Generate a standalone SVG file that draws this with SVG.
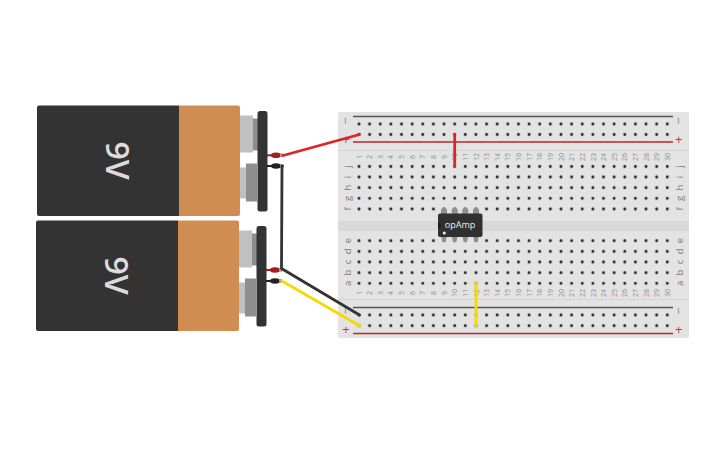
<svg xmlns="http://www.w3.org/2000/svg" width="725" height="453" viewBox="0 0 725 453">
<style>
text{font-family:"Open Sans","Noto Sans","DejaVu Sans",sans-serif}
.halo{stroke:#cbcbcb;stroke-width:4.600;stroke-linecap:round;stroke-dasharray:0 10.631;fill:none}
.hole{stroke:#333;stroke-width:2.800;stroke-linecap:round;stroke-dasharray:0 10.631;fill:none}
.lab{font-size:7px;fill:#8e8e8e;text-anchor:middle}
.let{font-size:9.500px;fill:#7a7a7a;text-anchor:middle}
.sign{font-size:13px;text-anchor:middle}
.plus{fill:#d0342c}
.minus{fill:#8a8a8a}
.wire{fill:none;stroke-width:2.800;stroke-linecap:round;stroke-linejoin:round}
.dark{fill:#333}.orange{fill:#d08d52}.t1{fill:#c0c0c0}.t2{fill:#8e8e8e}
.pin{fill:#8f8f8f}
</style>
<defs>
<g id="row"><path class="halo" d="M359 0H668"/><path class="hole" d="M359 0H668"/></g>
<g id="battery">
<rect class="t1" x="202" y="10" width="14" height="37"/>
<rect class="t2" x="216" y="13" width="5" height="32"/>
<rect class="t1" x="202" y="62" width="7" height="31"/>
<rect class="t2" x="209" y="58" width="11" height="38"/>
<path class="dark" d="M2 0H142V110.500H2Q0 110.500 0 108.500V2Q0 0 2 0Z"/>
<path class="orange" d="M142 0H201Q203 0 203 2V108.500Q203 110.500 201 110.500H142Z"/>
<rect class="dark" x="220.500" y="5.500" width="10" height="100.500" rx="2.500"/>
<text transform="translate(81 55) rotate(90)" font-size="32" font-weight="600" fill="#dcdcdc" text-anchor="middle" dominant-baseline="central">9V</text>
</g>
</defs>

<g id="battery-1"><use href="#battery" x="37" y="105.500"/></g>
<g id="battery-2"><use href="#battery" x="36" y="220.500"/></g>

<g id="breadboard">
<rect x="338" y="112" width="351" height="226" rx="2" fill="#e3e3e3"/>
<rect x="338" y="221" width="351" height="10" fill="#d8d8d8"/>
<path d="M338 150.500H689M338 299.500H689" stroke="#d4d4d4" stroke-width="1"/>
<path d="M353 116.500H673M353 307.500H673" stroke="#555" stroke-width="1.300"/>
<path d="M353 142H673M353 333.500H673" stroke="#b82a2a" stroke-width="1.300"/>
<g id="holes">
<use href="#row" y="124"/><use href="#row" y="134.500"/>
<use href="#row" y="166.500"/><use href="#row" y="177"/><use href="#row" y="187.700"/><use href="#row" y="198.300"/><use href="#row" y="209"/>
<use href="#row" y="240.700"/><use href="#row" y="251.400"/><use href="#row" y="262"/><use href="#row" y="272.700"/><use href="#row" y="283.300"/>
<use href="#row" y="315"/><use href="#row" y="325.700"/>
</g>
<g id="numbers-top">
<text class="lab" transform="translate(361.500 157) rotate(-90)">1</text><text class="lab" transform="translate(372.100 157) rotate(-90)">2</text><text class="lab" transform="translate(382.700 157) rotate(-90)">3</text><text class="lab" transform="translate(393.400 157) rotate(-90)">4</text><text class="lab" transform="translate(404 157) rotate(-90)">5</text><text class="lab" transform="translate(414.700 157) rotate(-90)">6</text><text class="lab" transform="translate(425.300 157) rotate(-90)">7</text><text class="lab" transform="translate(435.900 157) rotate(-90)">8</text><text class="lab" transform="translate(446.600 157) rotate(-90)">9</text><text class="lab" transform="translate(457.200 157) rotate(-90)">10</text><text class="lab" transform="translate(467.800 157) rotate(-90)">11</text><text class="lab" transform="translate(478.500 157) rotate(-90)">12</text><text class="lab" transform="translate(489.100 157) rotate(-90)">13</text><text class="lab" transform="translate(499.700 157) rotate(-90)">14</text><text class="lab" transform="translate(510.400 157) rotate(-90)">15</text><text class="lab" transform="translate(521 157) rotate(-90)">16</text><text class="lab" transform="translate(531.600 157) rotate(-90)">17</text><text class="lab" transform="translate(542.300 157) rotate(-90)">18</text><text class="lab" transform="translate(552.900 157) rotate(-90)">19</text><text class="lab" transform="translate(563.600 157) rotate(-90)">20</text><text class="lab" transform="translate(574.200 157) rotate(-90)">21</text><text class="lab" transform="translate(584.800 157) rotate(-90)">22</text><text class="lab" transform="translate(595.500 157) rotate(-90)">23</text><text class="lab" transform="translate(606.100 157) rotate(-90)">24</text><text class="lab" transform="translate(616.700 157) rotate(-90)">25</text><text class="lab" transform="translate(627.400 157) rotate(-90)">26</text><text class="lab" transform="translate(638 157) rotate(-90)">27</text><text class="lab" transform="translate(648.600 157) rotate(-90)">28</text><text class="lab" transform="translate(659.300 157) rotate(-90)">29</text><text class="lab" transform="translate(669.900 157) rotate(-90)">30</text>
</g>
<g id="numbers-bottom">
<text class="lab" transform="translate(361.500 293) rotate(-90)">1</text><text class="lab" transform="translate(372.100 293) rotate(-90)">2</text><text class="lab" transform="translate(382.700 293) rotate(-90)">3</text><text class="lab" transform="translate(393.400 293) rotate(-90)">4</text><text class="lab" transform="translate(404 293) rotate(-90)">5</text><text class="lab" transform="translate(414.700 293) rotate(-90)">6</text><text class="lab" transform="translate(425.300 293) rotate(-90)">7</text><text class="lab" transform="translate(435.900 293) rotate(-90)">8</text><text class="lab" transform="translate(446.600 293) rotate(-90)">9</text><text class="lab" transform="translate(457.200 293) rotate(-90)">10</text><text class="lab" transform="translate(467.800 293) rotate(-90)">11</text><text class="lab" transform="translate(478.500 293) rotate(-90)">12</text><text class="lab" transform="translate(489.100 293) rotate(-90)">13</text><text class="lab" transform="translate(499.700 293) rotate(-90)">14</text><text class="lab" transform="translate(510.400 293) rotate(-90)">15</text><text class="lab" transform="translate(521 293) rotate(-90)">16</text><text class="lab" transform="translate(531.600 293) rotate(-90)">17</text><text class="lab" transform="translate(542.300 293) rotate(-90)">18</text><text class="lab" transform="translate(552.900 293) rotate(-90)">19</text><text class="lab" transform="translate(563.600 293) rotate(-90)">20</text><text class="lab" transform="translate(574.200 293) rotate(-90)">21</text><text class="lab" transform="translate(584.800 293) rotate(-90)">22</text><text class="lab" transform="translate(595.500 293) rotate(-90)">23</text><text class="lab" transform="translate(606.100 293) rotate(-90)">24</text><text class="lab" transform="translate(616.700 293) rotate(-90)">25</text><text class="lab" transform="translate(627.400 293) rotate(-90)">26</text><text class="lab" transform="translate(638 293) rotate(-90)">27</text><text class="lab" transform="translate(648.600 293) rotate(-90)">28</text><text class="lab" transform="translate(659.300 293) rotate(-90)">29</text><text class="lab" transform="translate(669.900 293) rotate(-90)">30</text>
</g>
<g id="letters">
<text class="let" transform="translate(351 166.500) rotate(-90)">j</text><text class="let" transform="translate(351 177) rotate(-90)">i</text><text class="let" transform="translate(351 187.700) rotate(-90)">h</text><text class="let" transform="translate(351 198.300) rotate(-90)">g</text><text class="let" transform="translate(351 209) rotate(-90)">f</text>
<text class="let" transform="translate(351 240.700) rotate(-90)">e</text><text class="let" transform="translate(351 251.400) rotate(-90)">d</text><text class="let" transform="translate(351 262) rotate(-90)">c</text><text class="let" transform="translate(351 272.700) rotate(-90)">b</text><text class="let" transform="translate(351 283.300) rotate(-90)">a</text>
<text class="let" transform="translate(682.500 166.500) rotate(-90)">j</text><text class="let" transform="translate(682.500 177) rotate(-90)">i</text><text class="let" transform="translate(682.500 187.700) rotate(-90)">h</text><text class="let" transform="translate(682.500 198.300) rotate(-90)">g</text><text class="let" transform="translate(682.500 209) rotate(-90)">f</text>
<text class="let" transform="translate(682.500 240.700) rotate(-90)">e</text><text class="let" transform="translate(682.500 251.400) rotate(-90)">d</text><text class="let" transform="translate(682.500 262) rotate(-90)">c</text><text class="let" transform="translate(682.500 272.700) rotate(-90)">b</text><text class="let" transform="translate(682.500 283.300) rotate(-90)">a</text>
</g>
<g id="rail-signs">
<text class="sign plus" x="346" y="143.600">+</text><text class="sign plus" x="678.700" y="143.600">+</text>
<text class="sign plus" x="346" y="333.600">+</text><text class="sign plus" x="678.700" y="333.600">+</text>
<text class="sign minus" transform="translate(350.300 120.700) rotate(-90)">−</text><text class="sign minus" transform="translate(683 120.700) rotate(-90)">−</text>
<text class="sign minus" transform="translate(350.300 311) rotate(-90)">−</text><text class="sign minus" transform="translate(683 311) rotate(-90)">−</text>
</g>
</g>

<g id="opamp">
<path class="pin" d="M441 214V209.500L442.500 208H445.500L447 209.500V214ZM451.700 214V209.500L453.200 208H456.200L457.700 209.500V214ZM462.300 214V209.500L463.800 208H466.800L468.300 209.500V214ZM473 214V209.500L474.500 208H477.500L479 209.500V214Z"/>
<path class="pin" d="M441 236H447L445.500 242H442.500ZM451.700 236H457.700L456.200 242H453.200ZM462.300 236H468.300L466.800 242H463.800ZM473 236H479L477.500 242H474.500Z"/>
<rect x="438" y="213.500" width="44.500" height="23.500" rx="2" fill="#303030"/>
<path d="M438 222.500A2.700 2.700 0 0 1 438 227.900Z" fill="#1c1c1c"/>
<circle cx="444.300" cy="233" r="1.500" fill="#f2f2f2"/>
<text x="460" y="228.300" font-size="9" fill="#f0f0f0" text-anchor="middle">opAmp</text>
</g>

<g id="connectors">
<g id="lead-top-red"><path d="M267 155.300H284" stroke="#a51c1c" stroke-width="2" fill="none"/><ellipse cx="276" cy="155.300" rx="5" ry="2.800" fill="#a51c1c"/><rect x="280" y="153.500" width="3.500" height="3.500" fill="#999"/></g>
<g id="lead-top-black"><path d="M267 166H284" stroke="#222" stroke-width="2" fill="none"/><ellipse cx="276" cy="166" rx="5" ry="2.800" fill="#222"/><rect x="280" y="164.200" width="3.500" height="3.500" fill="#999"/></g>
<g id="lead-bottom-red"><path d="M266 270H283" stroke="#a51c1c" stroke-width="2" fill="none"/><ellipse cx="275" cy="270" rx="5" ry="2.800" fill="#a51c1c"/><rect x="279" y="268.200" width="3.500" height="3.500" fill="#999"/></g>
<g id="lead-bottom-black"><path d="M266 281H283" stroke="#222" stroke-width="2" fill="none"/><ellipse cx="275" cy="281" rx="5" ry="2.800" fill="#222"/><rect x="279" y="279.200" width="3.500" height="3.500" fill="#999"/></g>
<path class="wire" stroke="#e02424" d="M283 155.500L359.500 134.500"/>
<path class="wire" stroke="#333" d="M282 166L281.500 268.500L359.500 315"/>
<path class="wire" stroke="#f7d900" d="M282 281L359.500 325.700"/>
<path class="wire" stroke="#e02424" d="M454.700 134.500V166"/>
<path class="wire" stroke="#f7d900" d="M476 283.300V325.700"/>
</g>
</svg>
